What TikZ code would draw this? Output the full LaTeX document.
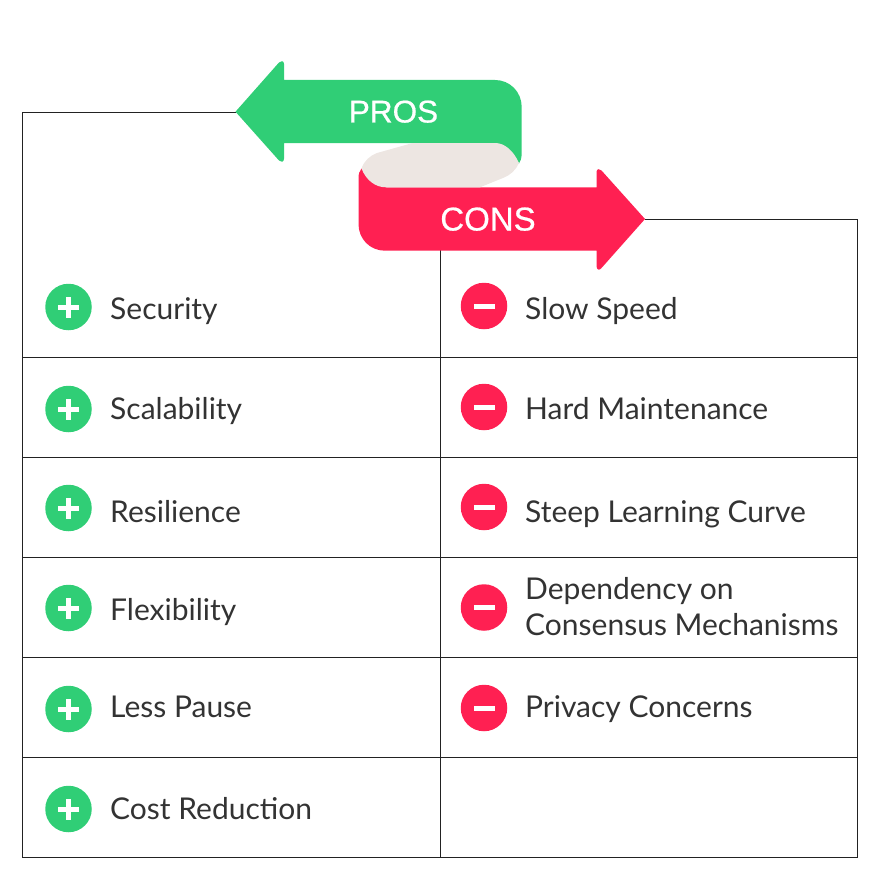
\documentclass[tikz,border=0pt]{standalone}
\usepackage{fontspec}
\setmainfont{Lato}
\newfontfamily\arrowfont[FakeBold=0.6]{Liberation Sans}
\definecolor{prosgreen}{HTML}{30CE76}
\definecolor{consred}{HTML}{FF2052}
\definecolor{foldbeige}{HTML}{EDE6E2}
\definecolor{inkgrey}{HTML}{333333}
\definecolor{gridline}{HTML}{222222}
\begin{document}
\begin{tikzpicture}[x=1pt,y=-1pt,
  gridrule/.style={draw=gridline,line width=1pt},
  item/.style={anchor=base west,inner sep=0pt,text=inkgrey,font=\fontsize{30}{36}\selectfont},
  badgeP/.style={circle,fill=prosgreen,minimum size=46.5pt,inner sep=0pt},
  badgeM/.style={circle,fill=consred,minimum size=46.5pt,inner sep=0pt},
  arrowlabel/.style={anchor=base,inner sep=0pt,text=white,font=\arrowfont\fontsize{31.5}{38}\selectfont},
  arrowlabelB/.style={anchor=base,inner sep=0pt,text=white,font=\arrowfont\fontsize{33}{38}\selectfont},
  pluspart/.style={fill=white,draw=none},
]
\useasboundingbox (0,0) rectangle (880,880);
% frame
\coordinate (pt) at (236,112.5);
\coordinate (tl) at (22,112.5);
\coordinate (bl) at (22,857);
\coordinate (br) at (857.7,857);
\coordinate (tr) at (857.7,219);
\coordinate (ct) at (645,219);
\coordinate (mt) at (440,250);
\coordinate (mb) at (440,857);
\draw[gridrule,line join=miter] (pt) -- (tl) -- (bl) -- (br) -- (tr) -- (ct);
\draw[gridrule] (mt) -- (mb);
\foreach \y/\n in {357/a,457/b,557/c,657/d,757/e}{
  \coordinate (l\n) at (22,\y);
  \coordinate (r\n) at (857.7,\y);
  \draw[gridrule] (l\n) -- (r\n);
}
% green arrow
\fill[prosgreen] (235.5,111.7) -- (279,62.5) .. controls (280.5,60.5) and (284,60.5) .. (284,64)
  -- (284,80) -- (495,80) .. controls (510,80) and (521.7,92) .. (521.7,107) -- (521.7,155)
  .. controls (521.7,158) and (520.5,161) .. (519,163.5)
  -- (495,160) -- (495,143) -- (284,143) -- (284,158.5) .. controls (284,162.5) and (280.5,162.5) .. (279,160.5) -- cycle;
% red arrow
\fill[consred] (645,219) -- (601.5,170.5) .. controls (600,168.5) and (596.5,168.5) .. (596.5,172)
  -- (596.5,187.3) -- (386,187.3) -- (386,172) -- (361.5,168.5)
  .. controls (359.5,171) and (358.5,174) .. (358.5,178) -- (358.5,224)
  .. controls (358.5,239) and (370,250.7) .. (385,250.7) -- (596.5,250.7) -- (596.5,266)
  .. controls (596.5,270.5) and (600,270.5) .. (601.5,268) -- cycle;
% fold
\fill[foldbeige] (412.7,143) -- (495,143) .. controls (505,143) and (513.5,151) .. (519,163)
  .. controls (516,170) and (510,175.5) .. (503,178) -- (480,187.3) -- (386,187.3)
  .. controls (375,187.3) and (366,180) .. (361.5,168.5)
  .. controls (364,161) and (370,155.5) .. (377,153) -- cycle;
\node[arrowlabel] (pros) at (393.5,122.5) {PROS};
\node[arrowlabelB] (cons) at (488,230.5) {CONS};
% pros
\foreach \n/\yc/\yb/\t in {p1/307/319/Security,p2/409/419/Scalability,p3/508/522/Resilience,p4/608/620/Flexibility,p5/709/717/Less Pause,p6/809/819/Cost Reduction}{
  \node[badgeP] (\n) at (68.5,\yc) {};
  \fill[pluspart] ([xshift=-10.5pt,yshift=-2.5pt]\n.center) rectangle ([xshift=10.5pt,yshift=2.5pt]\n.center);
  \fill[pluspart] ([xshift=-2.5pt,yshift=-10.5pt]\n.center) rectangle ([xshift=2.5pt,yshift=10.5pt]\n.center);
  \node[item] (\n t) at (110,\yb) {\t};
}
% cons
\foreach \n/\yc/\yb/\t in {m1/306/319/Slow Speed,m2/407/419/Hard Maintenance,m3/507/522/Steep Learning Curve,m5/708/717/Privacy Concerns}{
  \node[badgeM] (\n) at (484,\yc) {};
  \fill[pluspart] ([xshift=-10.5pt,yshift=-2.5pt]\n.center) rectangle ([xshift=10.5pt,yshift=2.5pt]\n.center);
  \node[item] (\n t) at (525,\yb) {\t};
}
\node[badgeM] (m4) at (484,607.5) {};
\fill[pluspart] ([xshift=-10.5pt,yshift=-2.5pt]m4.center) rectangle ([xshift=10.5pt,yshift=2.5pt]m4.center);
\node[item] (m4a) at (525,599) {Dependency on};
\node[item] (m4b) at (525,635) {Consensus Mechanisms};
\end{tikzpicture}
\end{document}
